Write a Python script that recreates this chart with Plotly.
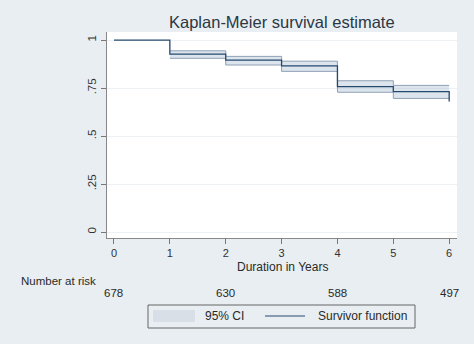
import plotly.graph_objects as go

# ---- data ----
times = [0, 1, 2, 3, 4, 5, 6]
survival = [1.0, 0.927, 0.896, 0.866, 0.757, 0.731, 0.68]
ci_times = [1, 2, 3, 4, 5, 6]
ci_upper = [0.944, 0.915, 0.890, 0.788, 0.764, 0.764]
ci_lower = [0.905, 0.870, 0.837, 0.728, 0.696, 0.696]
risk_times = [0, 2, 4, 6]
risk_counts = [678, 630, 588, 497]
y_tickvals = [0, 0.25, 0.5, 0.75, 1]
y_ticktext = ["0", ".25", ".5", ".75", "1"]
x_tickvals = [0, 1, 2, 3, 4, 5, 6]

W, H = 474, 344
L, R, T, B = 107, 457, 32, 238
FONT = "Liberation Sans, Arial, Helvetica, sans-serif"
BG = "#e8eef1"
NAVY = "#25496e"
CI_FILL = "rgba(172,190,212,0.42)"
CI_LINE = "#8fa1b5"
TXT = "#2a2a2a"


def px(x):
    return (x - L) / (R - L)


def py(y):
    return (B - y) / (B - T)


fig = go.Figure()
fig.add_trace(go.Scatter(x=ci_times, y=ci_lower, mode="lines", line=dict(color=CI_LINE, width=1, shape="hv"),
                         showlegend=False, hoverinfo="skip"))
fig.add_trace(go.Scatter(x=ci_times, y=ci_upper, mode="lines", line=dict(color=CI_LINE, width=1, shape="hv"),
                         fill="tonexty", fillcolor=CI_FILL, showlegend=False, hoverinfo="skip"))
fig.add_trace(go.Scatter(x=times, y=survival, mode="lines", line=dict(color=NAVY, width=1.3, shape="hv"),
                         showlegend=False))

ann = []
ann.append(dict(text="Kaplan-Meier survival estimate", x=px(282), y=py(22), xref="paper", yref="paper",
                showarrow=False, font=dict(family=FONT, size=16.5, color="#2b3744"), xanchor="center", yanchor="middle"))
ann.append(dict(text="Duration in Years", x=px(282), y=py(267), xref="paper", yref="paper",
                showarrow=False, font=dict(family=FONT, size=12, color=TXT), xanchor="center", yanchor="middle"))
ann.append(dict(text="Number at risk", x=px(19), y=py(281), xref="paper", yref="paper",
                showarrow=False, font=dict(family=FONT, size=11.5, color=TXT), xanchor="left", yanchor="middle"))
for t, n in zip(risk_times, risk_counts):
    ann.append(dict(text=str(n), x=t, y=py(293), xref="x", yref="paper",
                    showarrow=False, font=dict(family=FONT, size=11.5, color=TXT), xanchor="center", yanchor="middle"))
ann.append(dict(text="95% CI", x=px(203), y=py(316), xref="paper", yref="paper",
                showarrow=False, font=dict(family=FONT, size=12, color=TXT), xanchor="left", yanchor="middle"))
ann.append(dict(text="Survivor function", x=px(316), y=py(316), xref="paper", yref="paper",
                showarrow=False, font=dict(family=FONT, size=12, color=TXT), xanchor="left", yanchor="middle"))

shapes = [
    dict(type="rect", xref="paper", yref="paper", x0=px(148), x1=px(415), y0=py(305), y1=py(328),
         line=dict(color="#666", width=1), fillcolor="rgba(0,0,0,0)"),
    dict(type="rect", xref="paper", yref="paper", x0=px(153), x1=px(195), y0=py(310), y1=py(322),
         line=dict(width=0), fillcolor="#d9dfe6"),
    dict(type="line", xref="paper", yref="paper", x0=px(265), x1=px(305), y0=py(316), y1=py(316),
         line=dict(color=NAVY, width=1)),
]

fig.update_layout(
    width=W, height=H,
    margin=dict(l=L, r=W - R, t=T, b=H - B, pad=0),
    paper_bgcolor=BG, plot_bgcolor="white",
    showlegend=False,
    annotations=ann, shapes=shapes,
    font=dict(family=FONT, size=11, color="#333"),
)
fig.update_xaxes(range=[-0.125, 6.14], tickvals=x_tickvals, ticks="outside", ticklen=5, tickcolor="#777",
                 showline=True, linecolor="#888", linewidth=1, showgrid=False, zeroline=False,
                 tickfont=dict(family=FONT, size=11, color="#333"))
fig.update_yaxes(range=[-0.031, 1.042], tickvals=y_tickvals, ticktext=y_ticktext, tickangle=-90,
                 ticks="outside", ticklen=5, tickcolor="#777",
                 showline=True, linecolor="#888", linewidth=1, showgrid=True, gridcolor="#edf1f4", gridwidth=1,
                 zeroline=False, tickfont=dict(family=FONT, size=11.5, color="#333"))

fig.write_html("out.html")
